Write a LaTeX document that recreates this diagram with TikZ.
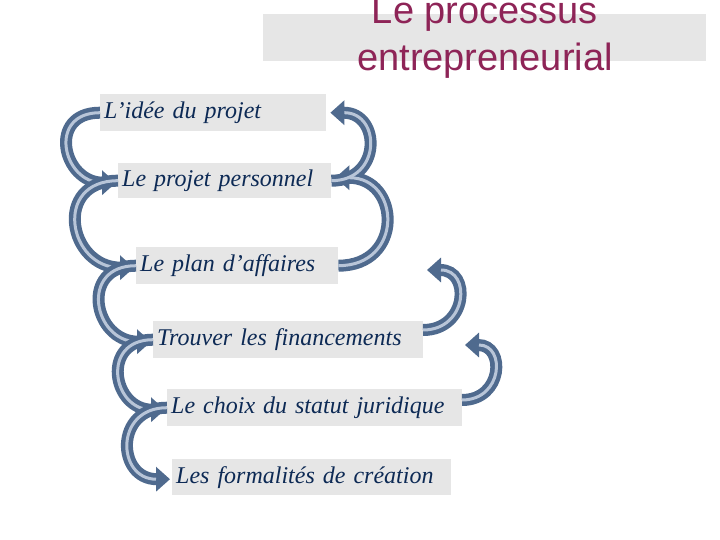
\documentclass[tikz,border=0pt]{standalone}
\usepackage{fontspec}
\setmainfont{Liberation Serif}
\newfontfamily\titlefont{Liberation Sans}
\usetikzlibrary{arrows.meta}
\definecolor{navy}{HTML}{0D2A55}
\definecolor{boxg}{HTML}{E6E6E6}
\definecolor{arr}{HTML}{4F6A8E}
\definecolor{arrl}{HTML}{B8C5D8}
\definecolor{ttl}{HTML}{8E2457}
\tikzset{
  stepbox/.style={fill=boxg,anchor=north west,inner sep=0pt,text=navy,font=\itshape\fontsize{24}{24}\selectfont,align=left},
  curvearrow/.style={draw=arr,line width=12pt,-{Triangle[width=24pt,length=14pt]},looseness=1.9},
  curvelight/.style={draw=arrl,line width=3pt,looseness=1.9,shorten >=14pt},
}
\begin{document}
\begin{tikzpicture}[x=1pt,y=-1pt]
\useasboundingbox (0,0) rectangle (720,540);
\fill[boxg] (263,14) rectangle (706,61);
\node[text=ttl,font=\titlefont\fontsize{38}{47}\selectfont,align=center] (title) at (485,38) {Le processus\\entrepreneurial};
\node[stepbox,minimum width=226pt,minimum height=37pt,text width=222pt] (b1) at (100,94) {\hspace{2pt}L’idée du projet};
\node[stepbox,minimum width=213pt,minimum height=35pt,text width=209pt] (b2) at (118,163) {\hspace{2pt}Le projet personnel};
\node[stepbox,minimum width=202pt,minimum height=37pt,text width=198pt] (b3) at (136,247) {\hspace{2pt}Le plan d’affaires};
\node[stepbox,minimum width=270pt,minimum height=37pt,text width=266pt] (b4) at (153,321) {\hspace{2pt}Trouver les financements};
\node[stepbox,minimum width=295pt,minimum height=37pt,text width=291pt] (b5) at (167,389) {\hspace{2pt}Le choix du statut juridique};
\node[stepbox,minimum width=279pt,minimum height=36pt,text width=275pt] (b6) at (172,459) {\hspace{2pt}Les formalités de création};
% left arrows
\foreach \a/\b in {b1/b2,b2/b3,b3/b4,b4/b5,b5/b6}{
  \draw[curvearrow] (\a.west) to[out=180,in=180] ([xshift=-2pt,yshift=-2pt]\b.west);
  \draw[curvelight] (\a.west) to[out=180,in=180] ([xshift=-2pt,yshift=-2pt]\b.west);
}
% right arrows
\coordinate (r3) at (427,270);
\coordinate (r4) at (465,345);
\coordinate (s4) at (423,330);
\coordinate (s5) at (462,400);
\draw[curvearrow] (b2.east) to[out=0,in=0] ([xshift=4pt]b1.east);
\draw[curvearrow] (b3.east) to[out=0,in=0] ([xshift=4pt,yshift=3pt]b2.east);
\draw[curvearrow] (s4) to[out=0,in=0] (r3);
\draw[curvearrow] (s5) to[out=0,in=0] (r4);
\draw[curvelight] (b2.east) to[out=0,in=0] ([xshift=4pt]b1.east);
\draw[curvelight] (b3.east) to[out=0,in=0] ([xshift=4pt,yshift=3pt]b2.east);
\draw[curvelight] (s4) to[out=0,in=0] (r3);
\draw[curvelight] (s5) to[out=0,in=0] (r4);
\end{tikzpicture}
\end{document}
